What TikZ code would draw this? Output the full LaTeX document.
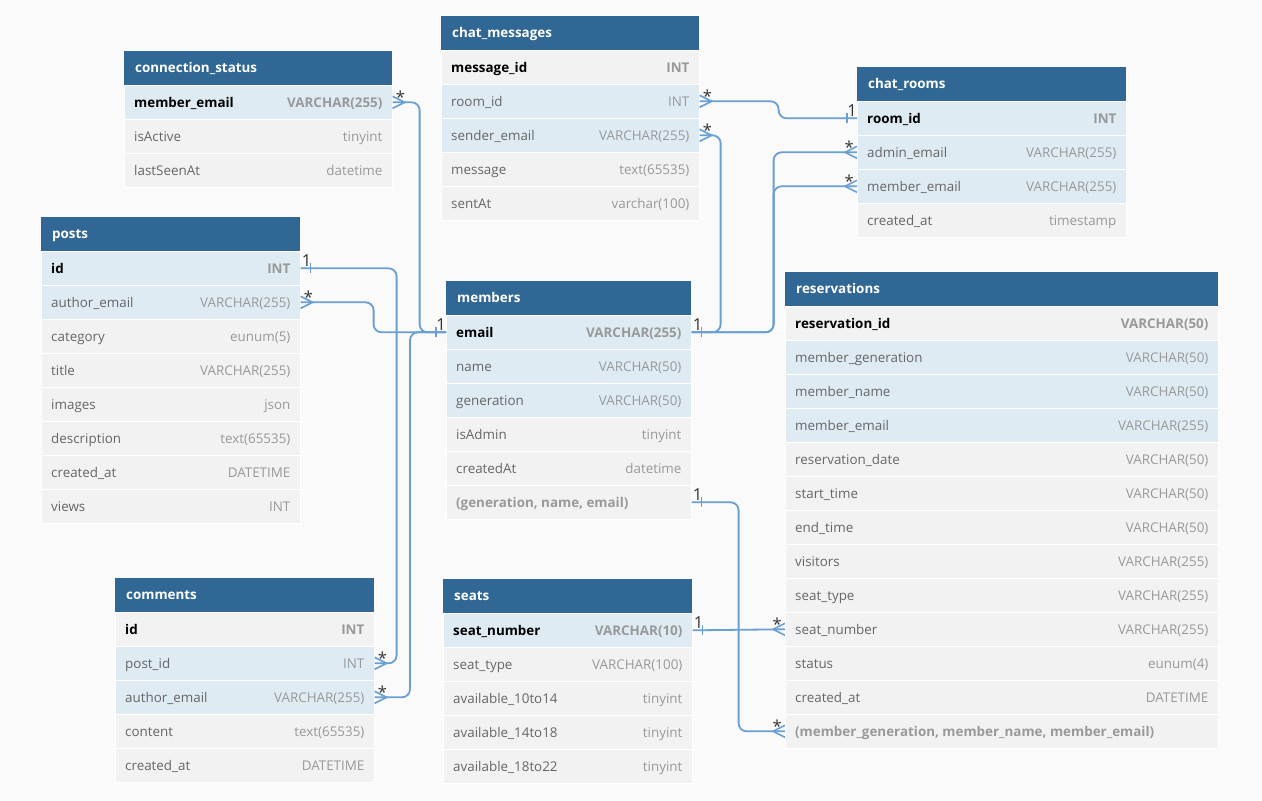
\documentclass[tikz,border=0pt]{standalone}
\usepackage{fontspec}
\setmainfont{Open Sans}
\usetikzlibrary{calc}
\definecolor{bgc}{HTML}{FAFAFA}
\definecolor{headc}{RGB}{49,103,148}
\definecolor{rowb}{HTML}{DEEBF3}
\definecolor{rowg}{HTML}{F2F2F2}
\definecolor{fieldc}{HTML}{666666}
\definecolor{typec}{HTML}{999999}
\definecolor{linkc}{HTML}{6A9FD3}
\definecolor{cardc}{HTML}{333333}
\newcommand{\pk}[1]{{\color{black}\bfseries #1}}
\newcommand{\pkt}[1]{{\bfseries #1}}
\newcommand{\cmp}[1]{{\color{typec}\bfseries #1}}
\tikzset{
  headbox/.style={fill=headc, inner sep=0pt, minimum height=34pt},
  headtxt/.style={text=white, font=\fontsize{13.4pt}{15pt}\selectfont\bfseries, inner sep=0pt, text height=9.5pt, text depth=3pt, yshift=-1.5pt},
  rowbox/.style={draw=white, line width=0.6pt, inner sep=0pt, minimum height=34pt},
  fieldtxt/.style={text=fieldc, font=\fontsize{13.4pt}{15pt}\selectfont, inner sep=0pt, text height=9.5pt, text depth=3pt, yshift=-1.5pt},
  typetxt/.style={text=typec, font=\fontsize{13.4pt}{15pt}\selectfont, inner sep=0pt, text height=9.5pt, text depth=3pt, yshift=-1.5pt},
  conn/.style={draw=linkc, line width=1.8pt, rounded corners=8pt},
  connend/.style={draw=linkc, line width=1.6pt},
  cardtxt/.style={text=cardc, font=\fontsize{16.5pt}{18pt}\selectfont, inner sep=0pt}
}
\newcommand{\tbl}[5]{%
  \def\tx{#2}\pgfmathsetmacro\ty{#3+34}\def\tw{#4pt}%
  \node[headbox, minimum width=#4pt, anchor=north west] (#1) at (#2,#3) {};
  \node[headtxt, anchor=west] (#1-t) at ([xshift=11pt]#1.west) {#5};}
\newcommand{\trow}[4]{%
  \node[rowbox, fill=#2, minimum width=\tw, anchor=north west] (#1) at (\tx,\ty) {};
  \node[fieldtxt, anchor=west] (#1-f) at ([xshift=10pt]#1.west) {#3};
  \node[typetxt, anchor=east] (#1-y) at ([xshift=-10pt]#1.east) {#4};
  \pgfmathsetmacro\ty{\ty+34}}
\newcommand{\manyE}[1]{%
  \draw[connend] ([yshift=6pt]#1.east) -- ([xshift=12pt]#1.east) -- ([yshift=-6pt]#1.east);
  \node[cardtxt, anchor=base west] at ([xshift=3pt,yshift=-1pt]#1.east) {*};}
\newcommand{\manyW}[1]{%
  \draw[connend] ([yshift=6pt]#1.west) -- ([xshift=-12pt]#1.west) -- ([yshift=-6pt]#1.west);
  \node[cardtxt, anchor=base east] at ([xshift=-3pt,yshift=-1pt]#1.west) {*};}
\newcommand{\oneE}[1]{%
  \draw[connend] ([xshift=10pt,yshift=5pt]#1.east) -- ([xshift=10pt,yshift=-5pt]#1.east);
  \node[cardtxt, anchor=base west] at ([xshift=1pt,yshift=2pt]#1.east) {1};}
\newcommand{\oneW}[1]{%
  \draw[connend] ([xshift=-10pt,yshift=5pt]#1.west) -- ([xshift=-10pt,yshift=-5pt]#1.west);
  \node[cardtxt, anchor=base east] at ([xshift=0pt,yshift=2pt]#1.west) {1};}
\begin{document}
\begin{tikzpicture}[x=1pt,y=-1pt]
\fill[bgc] (0,0) rectangle (1262,801);
\useasboundingbox (0,0) rectangle (1262,801);

% connection_status
\tbl{cs}{124}{51}{268}{connection\_status}
\trow{cs1}{rowb}{\pk{member\_email}}{\pkt{VARCHAR(255)}}
\trow{cs2}{rowg}{isActive}{tinyint}
\trow{cs3}{rowg}{lastSeenAt}{datetime}

% chat_messages
\tbl{cm}{441}{16}{258}{chat\_messages}
\trow{cm1}{rowg}{\pk{message\_id}}{\pkt{INT}}
\trow{cm2}{rowb}{room\_id}{INT}
\trow{cm3}{rowb}{sender\_email}{VARCHAR(255)}
\trow{cm4}{rowg}{message}{text(65535)}
\trow{cm5}{rowg}{sentAt}{varchar(100)}

% chat_rooms
\tbl{cr}{857}{67}{269}{chat\_rooms}
\trow{cr1}{rowb}{\pk{room\_id}}{\pkt{INT}}
\trow{cr2}{rowb}{admin\_email}{VARCHAR(255)}
\trow{cr3}{rowb}{member\_email}{VARCHAR(255)}
\trow{cr4}{rowg}{created\_at}{timestamp}

% posts
\tbl{po}{41}{217}{259}{posts}
\trow{po1}{rowb}{\pk{id}}{\pkt{INT}}
\trow{po2}{rowb}{author\_email}{VARCHAR(255)}
\trow{po3}{rowg}{category}{eunum(5)}
\trow{po4}{rowg}{title}{VARCHAR(255)}
\trow{po5}{rowg}{images}{json}
\trow{po6}{rowg}{description}{text(65535)}
\trow{po7}{rowg}{created\_at}{DATETIME}
\trow{po8}{rowg}{views}{INT}

% members
\tbl{me}{446}{281}{245}{members}
\trow{me1}{rowb}{\pk{email}}{\pkt{VARCHAR(255)}}
\trow{me2}{rowb}{name}{VARCHAR(50)}
\trow{me3}{rowb}{generation}{VARCHAR(50)}
\trow{me4}{rowg}{isAdmin}{tinyint}
\trow{me5}{rowg}{createdAt}{datetime}
\trow{me6}{rowg}{\cmp{(generation, name, email)}}{}

% reservations
\tbl{re}{785}{272}{433}{reservations}
\trow{re1}{rowg}{\pk{reservation\_id}}{\pkt{VARCHAR(50)}}
\trow{re2}{rowb}{member\_generation}{VARCHAR(50)}
\trow{re3}{rowb}{member\_name}{VARCHAR(50)}
\trow{re4}{rowb}{member\_email}{VARCHAR(255)}
\trow{re5}{rowg}{reservation\_date}{VARCHAR(50)}
\trow{re6}{rowg}{start\_time}{VARCHAR(50)}
\trow{re7}{rowg}{end\_time}{VARCHAR(50)}
\trow{re8}{rowg}{visitors}{VARCHAR(255)}
\trow{re9}{rowg}{seat\_type}{VARCHAR(255)}
\trow{re10}{rowg}{seat\_number}{VARCHAR(255)}
\trow{re11}{rowg}{status}{eunum(4)}
\trow{re12}{rowg}{created\_at}{DATETIME}
\trow{re13}{rowg}{\cmp{(member\_generation, member\_name, member\_email)}}{}

% comments
\tbl{co}{115}{578}{259}{comments}
\trow{co1}{rowg}{\pk{id}}{\pkt{INT}}
\trow{co2}{rowb}{post\_id}{INT}
\trow{co3}{rowb}{author\_email}{VARCHAR(255)}
\trow{co4}{rowg}{content}{text(65535)}
\trow{co5}{rowg}{created\_at}{DATETIME}

% seats
\tbl{se}{443}{579}{249}{seats}
\trow{se1}{rowb}{\pk{seat\_number}}{\pkt{VARCHAR(10)}}
\trow{se2}{rowg}{seat\_type}{VARCHAR(100)}
\trow{se3}{rowg}{available\_10to14}{tinyint}
\trow{se4}{rowg}{available\_14to18}{tinyint}
\trow{se5}{rowg}{available\_18to22}{tinyint}

% connectors
\draw[conn] (cs1.east) -- ([xshift=27pt]cs1.east) |- (me1.west);
\draw[conn] (po1.east) -- ([xshift=96pt]po1.east) |- (co2.east);
\draw[conn] (po2.east) -- ([xshift=73pt]po2.east) |- (me1.west);
\draw[conn] (me1.west) -- ([xshift=-36pt]me1.west) |- (co3.east);
\draw[conn] (cm2.east) -- ([xshift=79pt]cm2.east) |- (cr1.west);
\draw[conn] (cm3.east) -- ([xshift=21pt]cm3.east) |- (me1.east);
\draw[conn] (me1.east) -- ([xshift=82pt]me1.east) |- (cr2.west);
\draw[conn] (me1.east) -- ([xshift=82pt]me1.east) |- (cr3.west);
\draw[conn] (me6.east) -- ([xshift=47pt]me6.east) |- (re13.west);
\draw[conn] (se1.east) -- (re10.west);

% cardinalities
\manyE{cs1}
\oneW{me1}
\oneE{po1}
\manyE{co2}
\manyE{po2}
\manyE{co3}
\manyE{cm2}
\oneW{cr1}
\manyE{cm3}
\oneE{me1}
\manyW{cr2}
\manyW{cr3}
\oneE{me6}
\manyW{re13}
\oneE{se1}
\manyW{re10}
\end{tikzpicture}
\end{document}
